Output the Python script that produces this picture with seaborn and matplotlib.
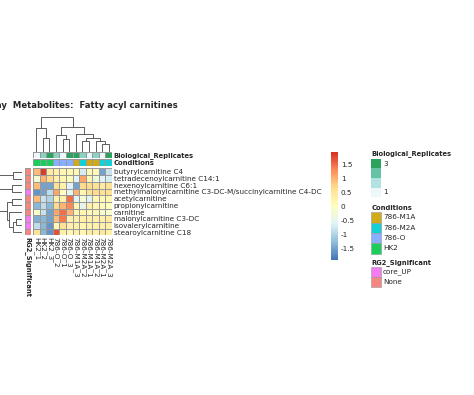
"""Clustered heatmap of fatty acyl carnitines (pheatmap look-alike)."""
import numpy as np
import pandas as pd
import matplotlib
matplotlib.use("Agg")
import matplotlib.pyplot as plt
import seaborn as sns
from matplotlib.colors import LinearSegmentedColormap, ListedColormap
from matplotlib.patches import Rectangle

sns.set_style("white")
plt.rcParams["font.family"] = ["DejaVu Sans"]
plt.rcParams["axes.unicode_minus"] = False

W, H = 474, 395

# ---- data (display order after clustering) ----
metabolites = ["butyrylcarnitine C4", "tetradecenoylcarnitine C14:1", "hexenoylcarnitine C6:1",
               "methylmalonylcarnitine C3-DC-M/succinylcarnitine C4-DC", "acetylcarnitine",
               "propionylcarnitine", "carnitine", "malonylcarnitine C3-DC", "isovalerylcarnitine",
               "stearoylcarnitine C18"]
samples = ["HK2_1", "HK2_2", "HK2_3", "786-O_2", "786-O_1", "786-O_3", "786-M1A_3",
           "786-M2A_2", "786-M1A_1", "786-M1A_2", "786-M2A_1", "786-M2A_3"]
zscores = [
    [0.9, 1.85, 0.4, 0.3, 0.2, 0.2, 0.2, -0.7, 0.1, 0.1, -1.5, -0.8],
    [-0.2, 1.0, 0.7, 0.3, 0.2, 0.1, -0.6, 1.1, 0.2, -0.3, -0.6, -0.7],
    [0.9, -1.5, -1.5, 0.6, 0.3, -0.6, -1.5, 0.7, 0.7, 0.6, 0.4, 0.6],
    [-1.6, -1.5, -0.9, 1.1, 0.0, -0.5, 1.0, 0.2, 0.6, 0.7, 0.6, 0.6],
    [0.9, -0.8, -1.0, 0.3, 0.3, 1.5, -0.6, -0.2, -0.6, 0.2, 0.1, 0.2],
    [-1.3, -0.9, -1.3, 0.7, 1.0, 1.3, 0.2, -0.5, 0.3, 0.2, 0.1, 0.0],
    [-0.1, -0.8, -1.5, 1.1, 1.5, 1.0, 0.2, 0.2, 0.1, 0.2, -0.2, -0.1],
    [-1.4, -1.3, -1.5, 0.9, 1.4, 0.3, 0.3, 0.3, 0.3, 0.3, 0.3, 0.4],
    [-0.9, -1.3, -1.6, 0.2, 0.6, 0.3, 0.3, 0.2, 0.3, 0.3, 0.3, 0.3],
    [0.6, -1.3, -1.6, 1.7, 0.3, 0.2, 0.3, 0.2, 0.4, 0.3, 0.5, 0.3],
]
conditions = [s.rsplit("_", 1)[0] for s in samples]
replicates = [int(s.rsplit("_", 1)[1]) for s in samples]
rg2 = ["None", "None", "None", "core_UP", "None", "None", "None", "core_UP", "core_UP", "None"]

cond_levels = ["786-M1A", "786-M2A", "786-O", "HK2"]
cond_colors = ["#D1AB17", "#14D0D6", "#88AEFF", "#1ACD5C"]
rg2_levels = ["core_UP", "None"]
rg2_colors = ["#F47CF0", "#F4877F"]
rep_colors = ["#EDF8FB", "#B2E2E2", "#66C2A4", "#2CA25F"]
heat_colors = ["#4575B4", "#91BFDB", "#E0F3F8", "#FFFFBF", "#FEE090", "#FC8D59", "#D73027"]
cbar_ticks = [-1.5, -1, -0.5, 0, 0.5, 1, 1.5]

# linkage trees, leaves numbered in display order: (left, right, height)
col_merges = [(10, 11, 7.5), (9, 12, 11), (7, 8, 11), (14, 13, 13.5), (6, 15, 18),
              (1, 2, 14), (4, 5, 13), (3, 18, 17), (0, 17, 24), (19, 16, 25), (20, 21, 35)]
row_merges = [(0, 1, 9.3), (2, 3, 10.3), (7, 8, 6), (12, 9, 9), (6, 13, 12.7),
              (4, 5, 10.3), (15, 14, 14.7), (10, 11, 24), (17, 16, 27)]

GRID = "#999999"
TREE = "#444444"


def box(x0, y0, x1, y1):
    return [x0 / W, 1 - y1 / H, (x1 - x0) / W, (y1 - y0) / H]


def draw_tree(ax, merges, n, side):
    pos = {i: i + 0.5 for i in range(n)}
    hgt = {i: 0.0 for i in range(n)}
    for k, (a, b, h) in enumerate(merges):
        xs = [pos[a], pos[a], pos[b], pos[b]]
        ys = [hgt[a], h, h, hgt[b]]
        if side == "top":
            ax.plot(xs, ys, color=TREE, lw=0.6, solid_capstyle="butt")
        else:
            ax.plot(ys, xs, color=TREE, lw=0.6, solid_capstyle="butt")
        pos[n + k] = (pos[a] + pos[b]) / 2
        hgt[n + k] = h
    ax.axis("off")


fig = plt.figure(figsize=(W / 100, H / 100), dpi=100)
cmap = LinearSegmentedColormap.from_list("rdylbu", heat_colors, N=100)
rep_cmap = LinearSegmentedColormap.from_list("bugn", rep_colors, N=100)

# main heatmap
df = pd.DataFrame(zscores, index=metabolites, columns=samples)
ax_hm = fig.add_axes(box(33, 168.5, 112, 235.5))
cax = fig.add_axes(box(331, 152, 337.5, 260))
sns.heatmap(df, ax=ax_hm, cmap=cmap, vmin=-1.9, vmax=1.93, linewidths=0.4, linecolor=GRID,
            cbar_ax=cax, xticklabels=True, yticklabels=True)
ax_hm.yaxis.tick_right()
ax_hm.set_yticklabels(metabolites, rotation=0, fontsize=5.2)
ax_hm.set_xticklabels(samples, rotation=270, fontsize=5.2)
ax_hm.tick_params(length=0, pad=1.2)
ax_hm.set_xlabel(""); ax_hm.set_ylabel("")

cbar = ax_hm.collections[0].colorbar
cbar.outline.set_visible(False)
cbar.set_ticks(cbar_ticks)
cbar.set_ticklabels([f"{t:g}" for t in cbar_ticks])
cax.tick_params(length=0, labelsize=5.2, pad=2.5)

# column annotations
ax_rep = fig.add_axes(box(33, 151.5, 112, 157.5))
sns.heatmap(pd.DataFrame([replicates], index=["Biological_Replicates"], columns=samples),
            ax=ax_rep, cmap=rep_cmap, vmin=1, vmax=3, cbar=False, linewidths=0.4,
            linecolor=GRID, xticklabels=False, yticklabels=True)
ax_cond = fig.add_axes(box(33, 159, 112, 165.5))
cond_codes = [cond_levels.index(c) for c in conditions]
sns.heatmap(pd.DataFrame([cond_codes], index=["Conditions"], columns=samples),
            ax=ax_cond, cmap=ListedColormap(cond_colors), vmin=-0.5, vmax=len(cond_levels) - 0.5,
            cbar=False, linewidths=0.4, linecolor=GRID, xticklabels=False, yticklabels=True)
for a in (ax_rep, ax_cond):
    a.yaxis.tick_right()
    a.set_yticklabels(a.get_yticklabels(), rotation=0, fontsize=4.9, fontweight="bold")
    a.tick_params(length=0, pad=1.2)
    a.set_xlabel(""); a.set_ylabel("")

# row annotation
ax_row = fig.add_axes(box(24.5, 168.5, 31.5, 235.5))
rg2_codes = [[rg2_levels.index(r)] for r in rg2]
sns.heatmap(pd.DataFrame(rg2_codes, index=metabolites, columns=["RG2_Significant"]),
            ax=ax_row, cmap=ListedColormap(rg2_colors), vmin=-0.5, vmax=1.5, cbar=False,
            linewidths=0.4, linecolor=GRID, xticklabels=True, yticklabels=False)
ax_row.set_xticklabels(["RG2_Significant"], rotation=270, fontsize=4.9, fontweight="bold")
ax_row.tick_params(length=0, pad=1.2)
ax_row.set_xlabel(""); ax_row.set_ylabel("")

# dendrograms
ax_ct = fig.add_axes(box(33, 113, 112, 151.5))
ax_ct.set_xlim(0, len(samples)); ax_ct.set_ylim(0, 38.5)
draw_tree(ax_ct, col_merges, len(samples), "top")
ax_rt = fig.add_axes(box(0, 168.5, 22, 235.5))
ax_rt.set_xlim(22, 0); ax_rt.set_ylim(len(metabolites), 0)
draw_tree(ax_rt, row_merges, len(metabolites), "left")

# title (runs off the left edge, as in the original)
fig.text(178 / W, 1 - 105.5 / H, "Pathway  Metabolites:  Fatty acyl carnitines",
         ha="right", va="center", fontsize=6.1, fontweight="bold")

# annotation legends
lg = fig.add_axes([0, 0, 1, 1], zorder=-1)
lg.set_xlim(0, W); lg.set_ylim(H, 0); lg.axis("off")
LX, BW = 371.5, 9.5


def legend_title(y, text):
    lg.text(LX, y, text, ha="left", va="center", fontsize=4.9, fontweight="bold")


legend_title(153.5, "Biological_Replicates")
for i, c in enumerate(rep_colors[::-1]):
    lg.add_patch(Rectangle((LX, 158.8 + i * 9.6), BW, 9.6, facecolor=c, edgecolor="none"))
lg.text(LX + BW + 2, 163.6, str(max(replicates)), va="center", fontsize=5.2)
lg.text(LX + BW + 2, 192.4, str(min(replicates)), va="center", fontsize=5.2)

legend_title(208.3, "Conditions")
for i, (lab, c) in enumerate(zip(cond_levels, cond_colors)):
    y = 212.3 + i * 10.3
    lg.add_patch(Rectangle((LX, y), BW, 10.3, facecolor=c, edgecolor=GRID, lw=0.4))
    lg.text(LX + BW + 2, y + 5.15, lab, va="center", fontsize=5.2)

legend_title(262.7, "RG2_Significant")
for i, (lab, c) in enumerate(zip(rg2_levels, rg2_colors)):
    y = 266.6 + i * 10.3
    lg.add_patch(Rectangle((LX, y), BW, 10.3, facecolor=c, edgecolor=GRID, lw=0.4))
    lg.text(LX + BW + 2, y + 5.15, lab, va="center", fontsize=5.2)

fig.savefig("out.png", dpi=100)
